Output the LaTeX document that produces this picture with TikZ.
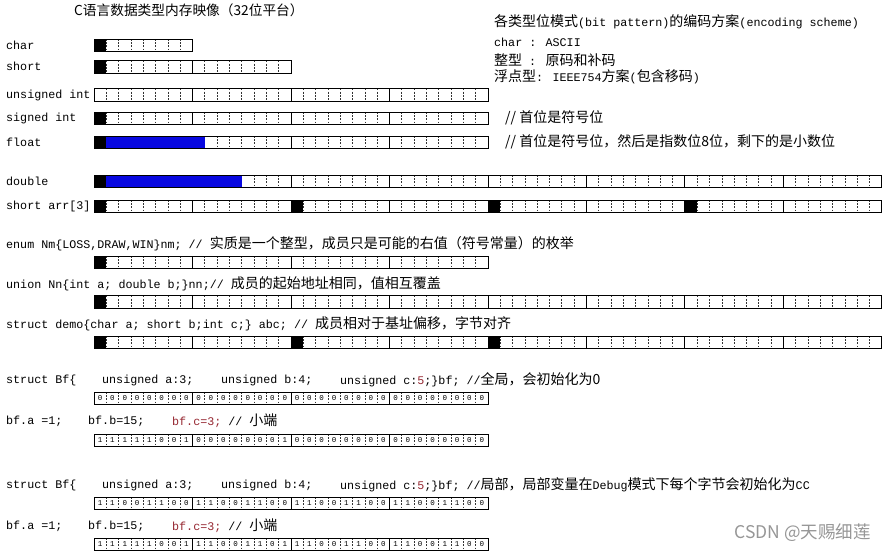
\documentclass[tikz,border=0pt]{standalone}
\usepackage{fontspec}
\usepackage{tikz}
\newfontfamily\codefont{Liberation Mono}
\newfontfamily\zhfont{Noto Sans CJK SC}
\newcommand{\zh}[1]{{\zhfont\fontsize{14}{16}\selectfont #1}}
\definecolor{fpblue}{RGB}{8,8,225}
\definecolor{codered}{RGB}{150,40,50}
\definecolor{wmgray}{RGB}{150,150,150}

\newcommand{\bitw}{12.31}
% one memory strip: [height] top, number of bits, filled cells
\newcommand{\memrow}[4][12.5]{%
  \pgfmathtruncatemacro{\nlast}{#3-1}
  \foreach \i in {1,...,\nlast}{
    \pgfmathtruncatemacro{\isbyte}{mod(\i,8)==0}
    \ifnum\isbyte=1
      \draw[bytesep] ({94+\i*\bitw},#2) -- ++(0,#1);
    \else
      \draw[bitsep] ({94+\i*\bitw},#2) -- ++(0,#1);
    \fi
  }
  #4
  \draw[frame] (94,#2) rectangle ++({#3*\bitw},#1);
}
% filled bits: top, first bit, count, colour
\newcommand{\cells}[4]{\fill[#4] ({94+#2*\bitw},#1) rectangle ++({#3*\bitw},12.5);}
% bit field strip with digits: name, top, digits
\newcommand{\bfrow}[3]{%
  \foreach \d [count=\k from 0] in {#3}
    \node[digit] (#1-\k) at ({94+(\k+0.5)*\bitw},#2+6) {\d};
  \memrow[12]{#2}{32}{}
}

\begin{document}
\begin{tikzpicture}[x=1pt, y=-1pt,
    frame/.style={draw=black, line width=0.8pt},
    bytesep/.style={draw=black, line width=0.8pt},
    bitsep/.style={draw=black!80, line width=0.6pt, dash pattern=on 1.8pt off 1.4pt},
    txt/.style={anchor=west, inner sep=0pt, font=\codefont\fontsize{11.7}{14}\selectfont},
    digit/.style={inner sep=0pt, font=\codefont\fontsize{7.5}{8}\selectfont}]

    \useasboundingbox (0,0) rectangle (886,552);

    \node[txt, font=\zhfont\fontsize{13.7}{16}\selectfont] (title) at (74,10) {C语言数据类型内存映像（32位平台）};

    \node[txt] (enc) at (494,22) {\zh{各类型位模式}(bit pattern)\zh{的编码方案}(encoding scheme)};
    \node[txt] (encchar) at (494,42) {char : ASCII};
    \node[txt] (encint) at (494,60) {\zh{整型} : \zh{原码和补码}};
    \node[txt] (encfloat) at (494,77) {\zh{浮点型}: IEEE754\zh{方案}(\zh{包含移码})};

    \node[txt] (lchar) at (6,45) {char};
    \node[txt] (lshort) at (6,66.5) {short};
    \node[txt] (luint) at (6,95) {unsigned int};
    \node[txt] (lsint) at (6,118) {signed int};
    \node[txt] (lfloat) at (6,142) {float};
    \node[txt] (ldouble) at (6,181) {double};
    \node[txt] (larr) at (6,206) {short arr[3]};

    \node[txt] (csint) at (505,118) {\zh{// 首位是符号位}};
    \node[txt] (cfloat) at (505,142) {\zh{// 首位是符号位，然后是指数位8位，剩下的是小数位}};

    \memrow{39}{8}{\cells{39}{0}{1}{black}}
    \memrow{60.5}{16}{\cells{60.5}{0}{1}{black}}
    \memrow{88.5}{32}{}
    \memrow{112}{32}{\cells{112}{0}{1}{black}}
    \memrow{136}{32}{\cells{136}{0}{1}{black} \cells{136}{1}{8}{fpblue}}
    \memrow{175}{64}{\cells{175}{0}{1}{black} \cells{175}{1}{11}{fpblue}}
    \memrow{200}{64}{\foreach \b in {0,16,32,48} {\cells{200}{\b}{1}{black}}}

    \node[txt] (enum) at (6,244) {enum Nm\{LOSS,DRAW,WIN\}nm; // \zh{实质是一个整型，成员只是可能的右值（符号常量）的枚举}};
    \memrow{256}{32}{\cells{256}{0}{1}{black}}

    \node[txt] (union) at (6,284) {union Nn\{int a; double b;\}nn;// \zh{成员的起始地址相同，值相互覆盖}};
    \memrow{295.5}{64}{\cells{295.5}{0}{1}{black}}

    \node[txt] (demo) at (6,324) {struct demo\{char a; short b;int c;\} abc; // \zh{成员相对于基址偏移，字节对齐}};
    \memrow{336}{64}{\foreach \b in {0,16,32} {\cells{336}{\b}{1}{black}}}

    % global bit field
    \node[txt] (bf1) at (6,380) {struct Bf\{};
    \node[txt] (bf1a) at (102,380) {unsigned a:3;};
    \node[txt] (bf1b) at (221,380) {unsigned b:4;};
    \node[txt] (bf1c) at (340,380) {unsigned c:{\color{codered}5};\}bf; //\zh{全局，会初始化为0}};
    \bfrow{g0}{392}{0,0,0,0,0,0,0,0,0,0,0,0,0,0,0,0,0,0,0,0,0,0,0,0,0,0,0,0,0,0,0,0}

    \node[txt] (set1a) at (6,421) {bf.a =1;};
    \node[txt] (set1b) at (88,421) {bf.b=15;};
    \node[txt] (set1c) at (172,421) {{\color{codered}bf.c=3;} // \zh{小端}};
    \bfrow{g1}{434}{1,1,1,1,1,0,0,1,0,0,0,0,0,0,0,1,0,0,0,0,0,0,0,0,0,0,0,0,0,0,0,0}

    % local bit field
    \node[txt] (bf2) at (6,485) {struct Bf\{};
    \node[txt] (bf2a) at (102,485) {unsigned a:3;};
    \node[txt] (bf2b) at (221,485) {unsigned b:4;};
    \node[txt] (bf2c) at (340,485) {unsigned c:{\color{codered}5};\}bf; //\zh{局部，局部变量在}Debug\zh{模式下每个字节会初始化为}CC};
    \bfrow{l0}{497}{1,1,0,0,1,1,0,0,1,1,0,0,1,1,0,0,1,1,0,0,1,1,0,0,1,1,0,0,1,1,0,0}

    \node[txt] (set2a) at (6,526) {bf.a =1;};
    \node[txt] (set2b) at (88,526) {bf.b=15;};
    \node[txt] (set2c) at (172,526) {{\color{codered}bf.c=3;} // \zh{小端}};
    \bfrow{l1}{538}{1,1,1,1,1,0,0,1,1,1,0,0,1,1,0,1,1,1,0,0,1,1,0,0,1,1,0,0,1,1,0,0}

    \node[anchor=east, inner sep=0pt, text=wmgray, font=\zhfont\fontsize{17.5}{20}\selectfont] (wm) at (871,533) {CSDN @天赐细莲};

\end{tikzpicture}
\end{document}
